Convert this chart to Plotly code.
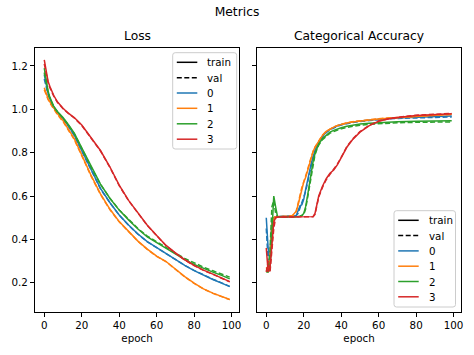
import plotly.graph_objects as go

# ---------------- data ----------------
EPOCHS_LOSS = [0, 1, 2, 3, 5, 7, 10, 13, 16, 20, 25, 30, 35, 40, 45, 50, 55, 60, 65, 70, 75, 80, 85, 90, 95, 99]

loss_train_0 = [1.16, 1.11, 1.075, 1.05, 1.012, 0.988, 0.958, 0.922, 0.882, 0.81, 0.72, 0.635, 0.57, 0.513, 0.466, 0.425, 0.39, 0.362, 0.336, 0.307, 0.28, 0.256, 0.235, 0.215, 0.197, 0.182]
loss_val_0 = [1.14, 1.10, 1.07, 1.046, 1.01, 0.986, 0.956, 0.92, 0.879, 0.808, 0.718, 0.633, 0.569, 0.512, 0.465, 0.424, 0.389, 0.361, 0.335, 0.306, 0.28, 0.257, 0.236, 0.216, 0.198, 0.183]
loss_train_1 = [1.10, 1.07, 1.05, 1.035, 1.005, 0.98, 0.948, 0.908, 0.865, 0.79, 0.695, 0.61, 0.54, 0.482, 0.435, 0.392, 0.355, 0.323, 0.298, 0.262, 0.228, 0.198, 0.172, 0.152, 0.135, 0.123]
loss_val_1 = [1.09, 1.065, 1.046, 1.03, 1.0, 0.976, 0.944, 0.904, 0.861, 0.786, 0.692, 0.607, 0.538, 0.481, 0.434, 0.391, 0.354, 0.322, 0.297, 0.261, 0.227, 0.197, 0.171, 0.151, 0.134, 0.122]
loss_train_2 = [1.19, 1.13, 1.085, 1.055, 1.015, 0.99, 0.962, 0.928, 0.89, 0.822, 0.735, 0.655, 0.59, 0.535, 0.49, 0.448, 0.412, 0.385, 0.36, 0.333, 0.307, 0.285, 0.266, 0.249, 0.233, 0.218]
loss_val_2 = [1.17, 1.12, 1.08, 1.05, 1.012, 0.988, 0.96, 0.926, 0.888, 0.82, 0.733, 0.654, 0.59, 0.536, 0.491, 0.45, 0.415, 0.388, 0.363, 0.337, 0.312, 0.291, 0.272, 0.255, 0.24, 0.226]
loss_train_3 = [1.228, 1.17, 1.13, 1.105, 1.065, 1.035, 1.005, 0.981, 0.962, 0.928, 0.87, 0.81, 0.735, 0.65, 0.58, 0.52, 0.465, 0.418, 0.372, 0.338, 0.306, 0.28, 0.258, 0.24, 0.222, 0.205]
loss_val_3 = [1.21, 1.16, 1.125, 1.1, 1.062, 1.033, 1.003, 0.98, 0.96, 0.926, 0.868, 0.808, 0.733, 0.648, 0.579, 0.519, 0.464, 0.417, 0.371, 0.337, 0.305, 0.279, 0.257, 0.239, 0.221, 0.204]

EPOCHS_ACC = [0, 1, 2, 3, 4, 5, 6, 8, 10, 12, 14, 15, 16, 17, 18, 19, 20, 21, 22, 23, 24, 25, 26, 27, 28,
              30, 32, 34, 36, 38, 40, 43, 46, 50, 55, 60, 65, 70, 80, 90, 99]

acc_train_0 = [0.50, 0.36, 0.30, 0.45, 0.50, 0.505, 0.505, 0.505, 0.506, 0.506, 0.507, 0.508, 0.51, 0.53, 0.555, 0.56, 0.585, 0.63, 0.665, 0.71, 0.75, 0.785, 0.81, 0.83, 0.85,
               0.875, 0.895, 0.908, 0.917, 0.924, 0.93, 0.936, 0.941, 0.946, 0.951, 0.955, 0.958, 0.96, 0.964, 0.967, 0.969]
acc_val_0 = [0.45, 0.30, 0.35, 0.48, 0.50, 0.505, 0.505, 0.505, 0.506, 0.506, 0.507, 0.508, 0.51, 0.52, 0.545, 0.57, 0.59, 0.62, 0.66, 0.70, 0.745, 0.78, 0.805, 0.828, 0.848,
             0.873, 0.893, 0.906, 0.915, 0.922, 0.928, 0.934, 0.939, 0.944, 0.949, 0.953, 0.956, 0.958, 0.961, 0.963, 0.965]
acc_train_1 = [0.25, 0.26, 0.33, 0.47, 0.50, 0.505, 0.505, 0.505, 0.506, 0.507, 0.51, 0.52, 0.53, 0.56, 0.60, 0.635, 0.665, 0.685, 0.715, 0.75, 0.78, 0.805, 0.825, 0.84, 0.855,
               0.88, 0.898, 0.91, 0.918, 0.925, 0.931, 0.937, 0.942, 0.947, 0.952, 0.956, 0.959, 0.962, 0.967, 0.972, 0.977]
acc_val_1 = [0.27, 0.25, 0.30, 0.42, 0.50, 0.505, 0.505, 0.505, 0.506, 0.507, 0.51, 0.515, 0.53, 0.57, 0.61, 0.64, 0.665, 0.69, 0.72, 0.752, 0.782, 0.806, 0.826, 0.841, 0.856,
             0.881, 0.899, 0.911, 0.919, 0.926, 0.932, 0.938, 0.943, 0.948, 0.953, 0.957, 0.96, 0.963, 0.968, 0.973, 0.976]
acc_train_2 = [0.25, 0.25, 0.26, 0.45, 0.60, 0.55, 0.505, 0.503, 0.503, 0.503, 0.503, 0.503, 0.504, 0.505, 0.507, 0.51, 0.52, 0.55, 0.60, 0.66, 0.715, 0.76, 0.795, 0.82, 0.84,
               0.865, 0.882, 0.895, 0.903, 0.91, 0.915, 0.922, 0.927, 0.932, 0.936, 0.939, 0.941, 0.943, 0.945, 0.946, 0.947]
acc_val_2 = [0.26, 0.25, 0.35, 0.55, 0.58, 0.52, 0.505, 0.503, 0.503, 0.503, 0.503, 0.503, 0.504, 0.505, 0.507, 0.51, 0.515, 0.54, 0.59, 0.65, 0.71, 0.755, 0.79, 0.815, 0.835,
             0.86, 0.877, 0.89, 0.898, 0.905, 0.91, 0.917, 0.922, 0.927, 0.931, 0.934, 0.936, 0.938, 0.94, 0.941, 0.942]
acc_train_3 = [0.36, 0.25, 0.27, 0.40, 0.48, 0.50, 0.503, 0.503, 0.503, 0.503, 0.503, 0.503, 0.503, 0.503, 0.503, 0.503, 0.503, 0.503, 0.504, 0.504, 0.504, 0.505, 0.52, 0.565, 0.60,
               0.645, 0.68, 0.705, 0.72, 0.745, 0.775, 0.825, 0.86, 0.895, 0.925, 0.945, 0.955, 0.962, 0.972, 0.977, 0.98]
acc_val_3 = [0.25, 0.30, 0.25, 0.35, 0.45, 0.50, 0.503, 0.503, 0.503, 0.503, 0.503, 0.503, 0.503, 0.503, 0.503, 0.503, 0.503, 0.503, 0.504, 0.504, 0.504, 0.505, 0.515, 0.55, 0.595,
             0.64, 0.675, 0.70, 0.722, 0.748, 0.778, 0.828, 0.862, 0.897, 0.926, 0.946, 0.956, 0.963, 0.973, 0.978, 0.981]

CLASS_LABELS = ["0", "1", "2", "3"]
LEGEND_LABELS = ["train", "val"] + CLASS_LABELS
COLORS = ["#1f77b4", "#ff7f0e", "#2ca02c", "#d62728"]
X_TICKS = [0, 20, 40, 60, 80, 100]
Y_TICKS = [0.2, 0.4, 0.6, 0.8, 1.0, 1.2]

LOSS_TRAIN = [loss_train_0, loss_train_1, loss_train_2, loss_train_3]
LOSS_VAL = [loss_val_0, loss_val_1, loss_val_2, loss_val_3]
ACC_TRAIN = [acc_train_0, acc_train_1, acc_train_2, acc_train_3]
ACC_VAL = [acc_val_0, acc_val_1, acc_val_2, acc_val_3]

# ---------------- figure ----------------
FONT = "DejaVu Sans"
LW = 1.5
DASH = "5px,2.5px"
FS = 10.3
TFS = 12.3

W, H = 474, 355
L, R, T, B = 35, 13, 48, 43
pw = W - L - R
ph = H - T - B


def px_x(p):
    return (p - L) / pw


def px_y(p):
    return 1 - (p - T) / ph


fig = go.Figure()

for i in range(4):
    fig.add_trace(go.Scatter(x=EPOCHS_LOSS, y=LOSS_TRAIN[i], mode="lines", xaxis="x", yaxis="y",
                             line=dict(color=COLORS[i], width=LW), showlegend=False, hoverinfo="skip"))
    fig.add_trace(go.Scatter(x=EPOCHS_LOSS, y=LOSS_VAL[i], mode="lines", xaxis="x", yaxis="y",
                             line=dict(color=COLORS[i], width=LW, dash=DASH), showlegend=False, hoverinfo="skip"))
for i in range(4):
    fig.add_trace(go.Scatter(x=EPOCHS_ACC, y=ACC_TRAIN[i], mode="lines", xaxis="x2", yaxis="y2",
                             line=dict(color=COLORS[i], width=LW), showlegend=False, hoverinfo="skip"))
    fig.add_trace(go.Scatter(x=EPOCHS_ACC, y=ACC_VAL[i], mode="lines", xaxis="x2", yaxis="y2",
                             line=dict(color=COLORS[i], width=LW, dash=DASH), showlegend=False, hoverinfo="skip"))

left_dom = [0, px_x(239)]
right_dom = [px_x(257), 1]

XR = [-4.95, 103.95]
YR = [0.065, 1.283]

axis_common = dict(showline=True, linecolor="black", linewidth=1, mirror=True, ticks="outside",
                   ticklen=4, tickwidth=1, tickcolor="black", showgrid=False, zeroline=False,
                   tickfont=dict(family=FONT, size=FS, color="black"))

shapes = []
annotations = [
    dict(text="Loss", xref="x domain", yref="y domain", x=0.5, y=1, xanchor="center", yanchor="bottom",
         yshift=3, showarrow=False, font=dict(family=FONT, size=TFS, color="black")),
    dict(text="Categorical Accuracy", xref="x2 domain", yref="y2 domain", x=0.5, y=1, xanchor="center",
         yanchor="bottom", yshift=3, showarrow=False, font=dict(family=FONT, size=TFS, color="black")),
]


def rounded_box(x0, y0, x1, y1, r=2.5):
    pts = [
        f"M {px_x(x0 + r)} {px_y(y0)}",
        f"L {px_x(x1 - r)} {px_y(y0)}",
        f"Q {px_x(x1)} {px_y(y0)} {px_x(x1)} {px_y(y0 + r)}",
        f"L {px_x(x1)} {px_y(y1 - r)}",
        f"Q {px_x(x1)} {px_y(y1)} {px_x(x1 - r)} {px_y(y1)}",
        f"L {px_x(x0 + r)} {px_y(y1)}",
        f"Q {px_x(x0)} {px_y(y1)} {px_x(x0)} {px_y(y1 - r)}",
        f"L {px_x(x0)} {px_y(y0 + r)}",
        f"Q {px_x(x0)} {px_y(y0)} {px_x(x0 + r)} {px_y(y0)}",
        "Z",
    ]
    return " ".join(pts)


def add_legend(box, rows_y, line_x0, line_x1, text_x):
    x0, y0, x1, y1 = box
    shapes.append(dict(type="path", xref="paper", yref="paper", path=rounded_box(x0, y0, x1, y1),
                       line=dict(color="#cccccc", width=1), fillcolor="rgba(255,255,255,0.8)", layer="above"))
    styles = [("black", "solid"), ("black", DASH)] + [(c, "solid") for c in COLORS]
    for lab, yy, (col, dash) in zip(LEGEND_LABELS, rows_y, styles):
        shapes.append(dict(type="line", xref="paper", yref="paper", x0=px_x(line_x0), x1=px_x(line_x1),
                           y0=px_y(yy), y1=px_y(yy), line=dict(color=col, width=LW, dash=dash), layer="above"))
        annotations.append(dict(text=lab, xref="paper", yref="paper", x=px_x(text_x), y=px_y(yy),
                                xanchor="left", yanchor="middle", showarrow=False,
                                font=dict(family=FONT, size=FS, color="black")))


add_legend((172.7, 52.7, 236.7, 149.0), [62.3, 77.7, 93.0, 108.3, 123.8, 139.2], 176.8, 197.3, 205.0)
add_legend((394.0, 210.7, 455.5, 307.0), [220.3, 235.6, 250.9, 266.2, 281.5, 296.8], 398.2, 418.7, 426.5)

fig.update_layout(
    width=W, height=H,
    margin=dict(l=L, r=R, t=T, b=B),
    paper_bgcolor="white", plot_bgcolor="white",
    showlegend=False,
    font=dict(family=FONT, size=FS, color="black"),
    title=dict(text="Metrics", x=0.5, xanchor="center", y=1 - 12 / H, yanchor="middle",
               font=dict(family=FONT, size=TFS, color="black")),
    xaxis=dict(domain=left_dom, range=XR, tickvals=X_TICKS, anchor="y",
               title=dict(text="epoch", standoff=4, font=dict(family=FONT, size=FS, color="black")),
               **axis_common),
    yaxis=dict(domain=[0, 1], range=YR, tickvals=Y_TICKS, tickformat=".1f", anchor="x", **axis_common),
    xaxis2=dict(domain=right_dom, range=XR, tickvals=X_TICKS, anchor="y2",
                title=dict(text="epoch", standoff=4, font=dict(family=FONT, size=FS, color="black")),
                **axis_common),
    yaxis2=dict(domain=[0, 1], range=YR, tickvals=Y_TICKS, showticklabels=False, anchor="x2",
                matches="y", **axis_common),
    shapes=shapes,
    annotations=annotations,
)

fig.write_html("out.html", config={"displayModeBar": False, "staticPlot": True},
               post_script="document.body.style.margin='0';document.body.style.overflow='hidden';")
